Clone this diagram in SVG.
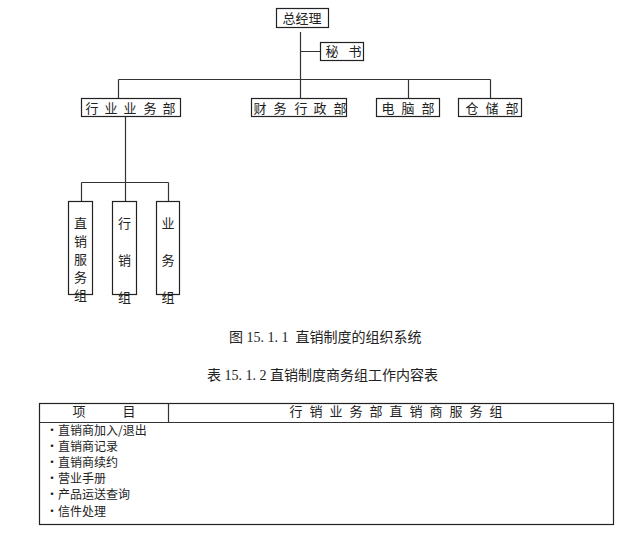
<svg xmlns="http://www.w3.org/2000/svg" width="640" height="545" viewBox="0 0 640 545">
<style>
.box{fill:#fff;stroke:#222;stroke-width:1.2}
.ln{fill:none;stroke:#333;stroke-width:1.2}
.t{font-family:"Noto Sans CJK SC","Noto Sans",sans-serif;font-size:13px;fill:#222;text-anchor:middle}
.tl{font-family:"Noto Sans CJK SC","Noto Sans",sans-serif;font-size:12px;fill:#222}
.cap{font-family:"Liberation Serif","Noto Sans CJK SC",serif;font-size:14px;fill:#222}
</style>
<rect width="640" height="545" fill="#fff"/>
<g id="connectors">
<path class="ln" d="M300.5 32V98M300.5 51.5H320M118.5 79.5H490.5M118.5 79.5V98M408.5 79.5V98M490.5 79.5V98"/>
<path class="ln" d="M125.5 117V182.5M81.5 182.5H168.5M81.5 182.5V201M125.5 182.5V201M168.5 182.5V201"/>
</g>
<g id="n-gm"><rect class="box" x="276.5" y="8.5" width="52" height="19"/><text class="t" x="302" y="23">总经理</text></g>
<g id="n-sec"><rect class="box" x="320.5" y="42.5" width="43" height="18"/><text class="t" x="332 355" y="56">秘书</text></g>
<g id="n-biz"><rect class="box" x="81.5" y="98.5" width="99" height="18"/><text class="t" x="92 111 130 150 169" y="113">行业业务部</text></g>
<g id="n-fin"><rect class="box" x="251.5" y="98.5" width="95" height="18"/><text class="t" x="260 280 301 320 340" y="113">财务行政部</text></g>
<g id="n-pc"><rect class="box" x="376.5" y="98.5" width="63" height="18"/><text class="t" x="388 408 428" y="113">电脑部</text></g>
<g id="n-wh"><rect class="box" x="458.5" y="98.5" width="63" height="18"/><text class="t" x="472 492 512" y="113">仓储部</text></g>
<g id="n-direct"><rect class="box" x="68.5" y="201.5" width="24" height="93"/>
<text class="t" x="80.5" y="228">直</text><text class="t" x="80.5" y="246">销</text><text class="t" x="80.5" y="264">服</text><text class="t" x="80.5" y="282">务</text><text class="t" x="80.5" y="300">组</text></g>
<g id="n-mkt"><rect class="box" x="112.5" y="201.5" width="24" height="93"/>
<text class="t" x="124.5" y="228">行</text><text class="t" x="124.5" y="265">销</text><text class="t" x="124.5" y="302">组</text></g>
<g id="n-ops"><rect class="box" x="156.5" y="201.5" width="23" height="93"/>
<text class="t" x="168" y="228">业</text><text class="t" x="168" y="265">务</text><text class="t" x="168" y="302">组</text></g>
<text class="cap" x="229" y="342" xml:space="preserve">图 15. 1. 1  直销制度的组织系统</text>
<text class="cap" x="207" y="380" xml:space="preserve">表 15. 1. 2 直销制度商务组工作内容表</text>
<g id="table">
<rect class="box" x="39.5" y="403.5" width="574" height="121"/>
<path class="ln" d="M39.5 422.5H613.5M168.5 403.5V422.5"/>
<text class="t" x="79 129" y="416">项目</text>
<text class="t" x="296 316 336 356 376 396 416 436 456 476 496" y="416">行销业务部直销商服务组</text>
<text class="tl" x="46" y="435">·直销商加入/退出</text>
<text class="tl" x="46" y="451">·直销商记录</text>
<text class="tl" x="46" y="467">·直销商续约</text>
<text class="tl" x="46" y="483">·营业手册</text>
<text class="tl" x="46" y="499">·产品运送查询</text>
<text class="tl" x="46" y="516">·信件处理</text>
</g>
</svg>
